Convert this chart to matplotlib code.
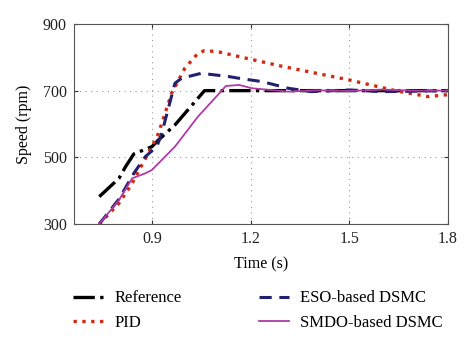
import matplotlib
matplotlib.use("Agg")
import matplotlib.pyplot as plt

# Data
t_ref = [0.74, 0.80, 0.82, 0.845, 0.90, 0.92, 0.97, 1.06, 1.10, 1.3, 1.5, 1.7, 1.8]
v_ref = [382, 437, 472, 510, 532, 552, 597, 700, 700, 700, 700, 700, 700]

t_pid = [0.74, 0.80, 0.84, 0.875, 0.90, 0.92, 0.96, 1.00, 1.04, 1.06, 1.10, 1.165, 1.3, 1.5, 1.64, 1.74, 1.8]
v_pid = [300, 362, 422, 487, 532, 572, 692, 767, 812, 820, 817, 802, 772, 732, 700, 682, 688]

t_eso = [0.74, 0.80, 0.845, 0.88, 0.915, 0.93, 0.97, 0.99, 1.05, 1.135, 1.165, 1.235, 1.315, 1.385, 1.5, 1.6, 1.8]
v_eso = [300, 375, 452, 502, 532, 572, 722, 737, 752, 742, 737, 727, 707, 697, 702, 697, 700]

t_smdo = [0.74, 0.80, 0.84, 0.88, 0.90, 0.97, 1.04, 1.105, 1.125, 1.165, 1.205, 1.315, 1.4, 1.5, 1.6, 1.7, 1.8]
v_smdo = [300, 372, 437, 452, 462, 532, 622, 692, 714, 717, 707, 697, 701, 699, 703, 700, 700]

xticks = [0.9, 1.2, 1.5, 1.8]
yticks = [300, 500, 700, 900]

plt.rcParams['font.family'] = ['Liberation Serif', 'DejaVu Serif']
plt.rcParams['font.size'] = 11.5

fig = plt.figure(figsize=(4.74, 3.42), dpi=100)
ax = fig.add_axes([0.156, 0.345, 0.789, 0.585])

l1, = ax.plot(t_ref, v_ref, color='black', linestyle='-.', lw=2.4, label='Reference')
l2, = ax.plot(t_pid, v_pid, color='#d42a12', linestyle=':', lw=2.4, label='PID')
l3, = ax.plot(t_eso, v_eso, color='#22216e', linestyle=(0, (4, 2.5)), lw=2.2, label='ESO-based DSMC')
l4, = ax.plot(t_smdo, v_smdo, color='#b03aa6', linestyle='-', lw=1.3, label='SMDO-based DSMC')

ax.set_xlim(0.663, 1.8)
ax.set_ylim(300, 900)
ax.set_xticks(xticks)
ax.set_yticks(yticks)
ax.tick_params(direction='in', top=True, right=True, length=3, pad=5,
               colors='#333333', labelcolor='#222222')
ax.grid(True, linestyle=(0, (1, 4)), color='#999999', lw=0.8)
for s in ax.spines.values():
    s.set_color('#555555')
    s.set_linewidth(0.8)
ax.set_xlabel('Time (s)', labelpad=6.5)
ax.set_ylabel('Speed (rpm)', labelpad=8)

fig.legend(handles=[l1, l2, l3, l4], ncol=2, frameon=False, fontsize=12,
           loc='upper left', bbox_to_anchor=(0.154, 0.151),
           borderpad=0, borderaxespad=0,
           handlelength=1.8, columnspacing=4.6, labelspacing=0.5, handletextpad=0.7)

fig.savefig('out.png', dpi=100)
